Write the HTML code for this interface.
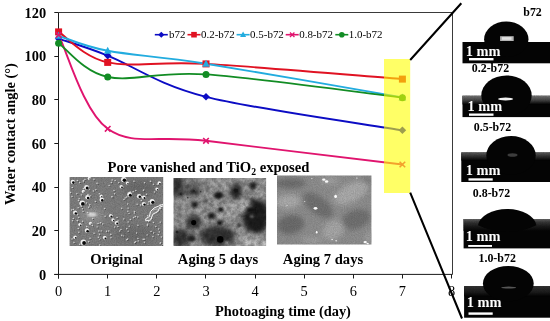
<!DOCTYPE html>
<html><head><meta charset="utf-8"><title>Water contact angle vs photoaging time</title>
<style>
html,body{margin:0;padding:0;background:#fff}
svg{display:block;font-family:"Liberation Serif","Times New Roman",serif}
.b{font-weight:bold}
</style></head><body>
<svg width="550" height="321" viewBox="0 0 550 321">
<defs>
<filter id="n1" x="0" y="0" width="100%" height="100%"><feTurbulence type="fractalNoise" baseFrequency="0.9" numOctaves="2" seed="3"/><feColorMatrix type="matrix" values="0 0 0 0 0  0 0 0 0 0  0 0 0 0 0  .5 .5 0 0 -.25"/></filter>
<filter id="n2" x="0" y="0" width="100%" height="100%"><feTurbulence type="fractalNoise" baseFrequency="0.22" numOctaves="3" seed="8"/><feColorMatrix type="matrix" values="0 0 0 0 0  0 0 0 0 0  0 0 0 0 0  1.6 1.6 0 0 -1.1"/></filter>
<filter id="bl1"><feGaussianBlur stdDeviation="1"/></filter>
<filter id="bl2"><feGaussianBlur stdDeviation="2.2"/></filter>
<filter id="bl4"><feGaussianBlur stdDeviation="4.5"/></filter>
<filter id="bl3"><feGaussianBlur stdDeviation="2.6"/></filter>
<filter id="bl13"><feGaussianBlur stdDeviation="1.2"/></filter>
<filter id="bl05"><feGaussianBlur stdDeviation="0.5"/></filter>
<clipPath id="c1"><rect x="69.6" y="177" width="93.6" height="69"/></clipPath>
<clipPath id="c2"><rect x="173.6" y="178" width="92.5" height="68"/></clipPath>
<clipPath id="c3"><rect x="277" y="175.6" width="94.4" height="69"/></clipPath>
<linearGradient id="gb1" x1="0" y1="0" x2="0" y2="1"><stop offset="0" stop-color="#777"/><stop offset=".5" stop-color="#484848"/><stop offset="1" stop-color="#040404"/></linearGradient>
<linearGradient id="gb2" x1="0" y1="0" x2="0" y2="1"><stop offset="0" stop-color="#5e5e5e"/><stop offset=".5" stop-color="#303030"/><stop offset="1" stop-color="#040404"/></linearGradient>
<linearGradient id="gb3" x1="0" y1="0" x2="0" y2="1"><stop offset="0" stop-color="#686868"/><stop offset=".25" stop-color="#3a3a3a"/><stop offset=".6" stop-color="#1c1c1c"/><stop offset="1" stop-color="#040404"/></linearGradient>
<linearGradient id="gb4" x1="0" y1="0" x2="0" y2="1"><stop offset="0" stop-color="#333"/><stop offset=".6" stop-color="#1c1c1c"/><stop offset="1" stop-color="#040404"/></linearGradient>
</defs>
<rect width="550" height="321" fill="#fff"/>

<path d="M58.5 12.5H452.5V274.4" fill="none" stroke="#3a3a3a" stroke-width="1"/>
<path d="M58.5 12.5V278.5M54.3 274.4H452.5" fill="none" stroke="#1a1a1a" stroke-width="1"/>
<path d="M54.3 274.5H58.5M54.3 230.5H58.5M54.3 187.5H58.5M54.3 143.5H58.5M54.3 99.5H58.5M54.3 56.5H58.5M54.3 12.5H58.5M58.5 274.4V278.5M107.5 274.4V278.5M156.5 274.4V278.5M205.5 274.4V278.5M255.5 274.4V278.5M304.5 274.4V278.5M353.5 274.4V278.5M402.5 274.4V278.5M451.5 274.4V278.5" fill="none" stroke="#1a1a1a" stroke-width="1"/>
<text class="b" x="46.2" y="279.7" font-size="14.4" text-anchor="end">0</text>
<text class="b" x="46.2" y="236.0" font-size="14.4" text-anchor="end">20</text>
<text class="b" x="46.2" y="192.4" font-size="14.4" text-anchor="end">40</text>
<text class="b" x="46.2" y="148.7" font-size="14.4" text-anchor="end">60</text>
<text class="b" x="46.2" y="105.1" font-size="14.4" text-anchor="end">80</text>
<text class="b" x="46.2" y="61.4" font-size="14.4" text-anchor="end">100</text>
<text class="b" x="46.2" y="17.8" font-size="14.4" text-anchor="end">120</text>
<text x="58.6" y="296" font-size="14.4" text-anchor="middle">0</text>
<text x="107.7" y="296" font-size="14.4" text-anchor="middle">1</text>
<text x="156.8" y="296" font-size="14.4" text-anchor="middle">2</text>
<text x="206.0" y="296" font-size="14.4" text-anchor="middle">3</text>
<text x="255.1" y="296" font-size="14.4" text-anchor="middle">4</text>
<text x="304.2" y="296" font-size="14.4" text-anchor="middle">5</text>
<text x="353.3" y="296" font-size="14.4" text-anchor="middle">6</text>
<text x="402.4" y="296" font-size="14.4" text-anchor="middle">7</text>
<text x="451.6" y="296" font-size="14.4" text-anchor="middle">8</text>
<text class="b" x="215" y="316" font-size="14.4">Photoaging time (day)</text>
<text class="b" transform="translate(15.4 205) rotate(-90)" font-size="14.4">Water contact angle (°)</text>
<g clip-path="url(#c1)">
<rect x="69" y="176" width="95" height="71" fill="#858585"/>
<g filter="url(#bl4)"><ellipse cx="92" cy="215" rx="11" ry="7" fill="#a4a4a4"/><ellipse cx="140" cy="188" rx="18" ry="7" fill="#707070"/><ellipse cx="135" cy="234" rx="22" ry="8" fill="#747474"/><ellipse cx="80" cy="192" rx="9" ry="10" fill="#868686"/></g>
<rect x="69" y="176" width="95" height="71" filter="url(#n1)" fill="#fff" opacity=".4"/>
<path d="M111.9 215.7h.1M155.1 209.5h.1M117.0 217.6h.1M87.4 212.5h.1M128.1 231.2h.1M79.1 198.7h.1M78.8 232.3h.1M133.9 181.3h.1M160.4 242.7h.1M130.3 219.4h.1M84.9 179.5h.1M118.8 182.5h.1M87.9 194.6h.1M73.3 209.4h.1M110.8 234.5h.1M118.0 221.1h.1M116.2 222.6h.1M112.3 197.0h.1M161.8 244.7h.1M147.4 225.6h.1M99.3 193.8h.1M96.9 183.2h.1M140.6 205.1h.1M148.0 204.2h.1M158.2 234.8h.1M70.5 192.4h.1M153.8 209.8h.1M160.2 204.9h.1M77.2 220.4h.1M141.7 196.4h.1M78.5 200.6h.1M158.7 228.9h.1M81.3 194.9h.1M79.7 182.5h.1M143.4 190.3h.1M121.7 208.3h.1M87.9 227.2h.1M82.5 221.3h.1M81.2 206.5h.1M90.0 196.4h.1M159.3 231.9h.1M98.3 237.3h.1M89.8 204.7h.1M148.7 221.2h.1M79.7 244.3h.1M90.0 195.7h.1M141.2 200.4h.1M97.6 183.4h.1M78.7 217.3h.1M92.7 218.5h.1M104.5 208.6h.1M158.3 210.7h.1M123.1 236.1h.1M87.2 188.7h.1M153.6 232.9h.1M93.3 191.1h.1M138.2 241.0h.1M88.5 241.7h.1M151.2 218.6h.1M109.1 185.4h.1M74.0 242.5h.1M92.3 225.4h.1M94.0 233.3h.1M125.1 198.0h.1M86.6 226.4h.1M76.8 193.7h.1M121.7 235.2h.1M126.7 197.1h.1M154.4 192.1h.1M72.0 196.4h.1M111.3 182.5h.1M86.6 203.0h.1M122.9 187.2h.1M103.6 237.7h.1M160.2 222.2h.1M133.7 217.4h.1M83.3 180.8h.1M72.1 239.0h.1M134.6 242.5h.1M72.4 220.8h.1M114.6 227.1h.1M99.7 245.0h.1M77.4 214.8h.1M137.9 238.4h.1M137.9 225.3h.1M143.1 239.3h.1M102.7 224.1h.1M152.9 236.4h.1M108.7 231.1h.1M149.5 216.6h.1M127.7 203.9h.1M123.8 219.0h.1M77.8 221.0h.1M161.4 237.0h.1M137.1 204.3h.1M137.8 217.1h.1M110.8 234.3h.1M78.2 228.4h.1M73.2 218.5h.1M114.5 193.8h.1M134.4 211.6h.1M126.7 239.7h.1M93.9 179.3h.1M98.0 223.6h.1M89.0 189.8h.1M153.4 222.4h.1M110.9 237.8h.1M100.4 222.8h.1M88.7 207.2h.1M144.2 239.3h.1M151.0 204.1h.1M123.9 199.5h.1M83.0 211.5h.1M147.1 234.9h.1M135.6 241.7h.1M95.8 189.7h.1M111.7 196.8h.1M90.1 206.0h.1M127.8 211.3h.1M99.4 234.3h.1M160.4 208.6h.1M77.3 180.6h.1M150.4 181.3h.1M135.3 216.4h.1M98.8 231.1h.1M72.2 187.5h.1M112.1 180.1h.1M146.4 194.3h.1M83.4 181.6h.1M128.1 208.2h.1M128.1 222.1h.1M144.4 242.2h.1M133.1 191.8h.1M114.0 190.4h.1M71.5 209.9h.1M135.8 190.4h.1M95.4 201.5h.1M134.3 213.1h.1M126.7 228.8h.1M106.5 231.2h.1M153.4 184.3h.1M155.8 226.5h.1M82.4 208.7h.1M127.7 239.0h.1M105.0 216.3h.1M151.0 231.5h.1M156.9 209.3h.1M130.1 192.1h.1M136.6 232.9h.1M129.2 226.2h.1M90.0 238.3h.1M160.2 243.5h.1M119.6 231.1h.1M99.8 239.0h.1M148.8 201.7h.1M78.1 207.8h.1M120.9 229.6h.1M115.1 180.4h.1M144.5 182.8h.1M143.7 190.0h.1M101.2 230.9h.1M83.4 188.4h.1M117.8 226.6h.1M147.4 224.3h.1M157.0 211.3h.1M157.3 184.2h.1M90.8 213.5h.1M97.1 227.0h.1M129.0 213.3h.1M147.7 215.7h.1" stroke="#cfcfcf" stroke-width="1.5" stroke-linecap="round" fill="none"/>
<path d="M112.8 216.6h.1M156.0 210.4h.1M117.9 218.5h.1M88.3 213.4h.1M129.0 232.1h.1M80.0 199.6h.1M79.7 233.2h.1M134.8 182.2h.1M161.3 243.6h.1M131.2 220.3h.1M85.8 180.4h.1M119.7 183.4h.1M88.8 195.5h.1M74.2 210.3h.1M111.7 235.4h.1M118.9 222.0h.1M117.1 223.5h.1M113.2 197.9h.1M162.7 245.6h.1M148.3 226.5h.1M100.2 194.7h.1M97.8 184.1h.1M141.5 206.0h.1M148.9 205.1h.1M159.1 235.7h.1M71.4 193.3h.1M154.7 210.7h.1M161.1 205.8h.1M78.1 221.3h.1M142.6 197.3h.1M79.4 201.5h.1M159.6 229.8h.1M82.2 195.8h.1M80.6 183.4h.1M144.3 191.2h.1M122.6 209.2h.1M88.8 228.1h.1M83.4 222.2h.1M82.1 207.4h.1M90.9 197.3h.1M160.2 232.8h.1M99.2 238.2h.1M90.7 205.6h.1M149.6 222.1h.1M80.6 245.2h.1M90.9 196.6h.1M142.1 201.3h.1M98.5 184.3h.1M79.6 218.2h.1M93.6 219.4h.1M105.4 209.5h.1M159.2 211.6h.1M124.0 237.0h.1M88.1 189.6h.1M154.5 233.8h.1M94.2 192.0h.1M139.1 241.9h.1M89.4 242.6h.1M152.1 219.5h.1M110.0 186.3h.1M74.9 243.4h.1M93.2 226.3h.1M94.9 234.2h.1M126.0 198.9h.1M87.5 227.3h.1M77.7 194.6h.1M122.6 236.1h.1M127.6 198.0h.1M155.3 193.0h.1M72.9 197.3h.1M112.2 183.4h.1M87.5 203.9h.1M123.8 188.1h.1M104.5 238.6h.1M161.1 223.1h.1M134.6 218.3h.1M84.2 181.7h.1M73.0 239.9h.1M135.5 243.4h.1M73.3 221.7h.1M115.5 228.0h.1M100.6 245.9h.1M78.3 215.7h.1M138.8 239.3h.1M138.8 226.2h.1M144.0 240.2h.1M103.6 225.0h.1M153.8 237.3h.1M109.6 232.0h.1M150.4 217.5h.1M128.6 204.8h.1M124.7 219.9h.1M78.7 221.9h.1M162.3 237.9h.1M138.0 205.2h.1M138.7 218.0h.1M111.7 235.2h.1M79.1 229.3h.1M74.1 219.4h.1M115.4 194.7h.1M135.3 212.5h.1M127.6 240.6h.1M94.8 180.2h.1M98.9 224.5h.1M89.9 190.7h.1M154.3 223.3h.1M111.8 238.7h.1M101.3 223.7h.1M89.6 208.1h.1M145.1 240.2h.1M151.9 205.0h.1M124.8 200.4h.1M83.9 212.4h.1M148.0 235.8h.1M136.5 242.6h.1M96.7 190.6h.1M112.6 197.7h.1M91.0 206.9h.1M128.7 212.2h.1M100.3 235.2h.1M161.3 209.5h.1M78.2 181.5h.1M151.3 182.2h.1M136.2 217.3h.1M99.7 232.0h.1M73.1 188.4h.1M113.0 181.0h.1M147.3 195.2h.1M84.3 182.5h.1M129.0 209.1h.1M129.0 223.0h.1M145.3 243.1h.1M134.0 192.7h.1M114.9 191.3h.1M72.4 210.8h.1M136.7 191.3h.1M96.3 202.4h.1M135.2 214.0h.1M127.6 229.7h.1M107.4 232.1h.1M154.3 185.2h.1M156.7 227.4h.1M83.3 209.6h.1M128.6 239.9h.1M105.9 217.2h.1M151.9 232.4h.1M157.8 210.2h.1M131.0 193.0h.1M137.5 233.8h.1M130.1 227.1h.1M90.9 239.2h.1M161.1 244.4h.1M120.5 232.0h.1M100.7 239.9h.1M149.7 202.6h.1M79.0 208.7h.1M121.8 230.5h.1M116.0 181.3h.1M145.4 183.7h.1M144.6 190.9h.1M102.1 231.8h.1M84.3 189.3h.1M118.7 227.5h.1M148.3 225.2h.1M157.9 212.2h.1M158.2 185.1h.1M91.7 214.4h.1M98.0 227.9h.1M129.9 214.2h.1M148.6 216.6h.1" stroke="#484848" stroke-width="1.1" stroke-linecap="round" fill="none"/>
<ellipse cx="92" cy="214.5" rx="4.5" ry="2" fill="#dcdcdc" filter="url(#bl1)"/>
<circle cx="72.8" cy="181.9" r="2.2" fill="#f0f0f0"/><circle cx="73.4" cy="182.6" r="1.3" fill="#0a0a0a"/>
<circle cx="86.5" cy="187.4" r="2.4" fill="#f0f0f0"/><circle cx="87.2" cy="188.0" r="1.5" fill="#0a0a0a"/>
<circle cx="82.2" cy="203.3" r="2.8" fill="#f0f0f0"/><circle cx="82.9" cy="203.9" r="1.9" fill="#0a0a0a"/>
<circle cx="87.5" cy="197.3" r="2.2" fill="#f0f0f0"/><circle cx="88.1" cy="198.0" r="1.3" fill="#0a0a0a"/>
<circle cx="123.7" cy="179.6" r="2.7" fill="#f0f0f0"/><circle cx="124.4" cy="180.2" r="1.8" fill="#0a0a0a"/>
<circle cx="121.3" cy="186.7" r="1.8" fill="#f0f0f0"/><circle cx="122.0" cy="187.3" r="0.9" fill="#0a0a0a"/>
<circle cx="129.6" cy="194.5" r="2.4" fill="#f0f0f0"/><circle cx="130.3" cy="195.2" r="1.5" fill="#0a0a0a"/>
<circle cx="139.1" cy="196.2" r="2.2" fill="#f0f0f0"/><circle cx="139.8" cy="196.8" r="1.3" fill="#0a0a0a"/>
<circle cx="143.8" cy="197.3" r="1.9" fill="#f0f0f0"/><circle cx="144.5" cy="198.0" r="1.0" fill="#0a0a0a"/>
<circle cx="143.8" cy="204.0" r="2.1" fill="#f0f0f0"/><circle cx="144.5" cy="204.6" r="1.2" fill="#0a0a0a"/>
<circle cx="152.1" cy="201.6" r="2.5" fill="#f0f0f0"/><circle cx="152.8" cy="202.3" r="1.6" fill="#0a0a0a"/>
<circle cx="101.7" cy="199.7" r="2.2" fill="#f0f0f0"/><circle cx="102.3" cy="200.4" r="1.3" fill="#0a0a0a"/>
<circle cx="75.1" cy="212.7" r="2.1" fill="#f0f0f0"/><circle cx="75.8" cy="213.4" r="1.2" fill="#0a0a0a"/>
<circle cx="87.0" cy="230.5" r="2.2" fill="#f0f0f0"/><circle cx="87.6" cy="231.2" r="1.3" fill="#0a0a0a"/>
<circle cx="83.4" cy="242.4" r="2.8" fill="#f0f0f0"/><circle cx="84.1" cy="243.0" r="1.9" fill="#0a0a0a"/>
<circle cx="75.1" cy="237.2" r="1.8" fill="#f0f0f0"/><circle cx="75.8" cy="237.8" r="0.9" fill="#0a0a0a"/>
<circle cx="110.7" cy="215.8" r="1.8" fill="#f0f0f0"/><circle cx="111.3" cy="216.5" r="0.9" fill="#0a0a0a"/>
<circle cx="116.6" cy="222.9" r="1.9" fill="#f0f0f0"/><circle cx="117.2" cy="223.6" r="1.0" fill="#0a0a0a"/>
<circle cx="104.7" cy="237.6" r="1.8" fill="#f0f0f0"/><circle cx="105.4" cy="238.3" r="0.9" fill="#0a0a0a"/>
<circle cx="159.3" cy="183.1" r="1.8" fill="#f0f0f0"/><circle cx="159.9" cy="183.8" r="0.9" fill="#0a0a0a"/>
<circle cx="89.3" cy="178.4" r="1.6" fill="#f0f0f0"/><circle cx="90.0" cy="179.0" r="0.7" fill="#0a0a0a"/>
<circle cx="101.2" cy="196.2" r="1.6" fill="#f0f0f0"/><circle cx="101.8" cy="196.8" r="0.7" fill="#0a0a0a"/>
<circle cx="83.4" cy="191.4" r="1.6" fill="#f0f0f0"/><circle cx="84.1" cy="192.1" r="0.7" fill="#0a0a0a"/>
<circle cx="79.9" cy="224.6" r="1.6" fill="#f0f0f0"/><circle cx="80.5" cy="225.2" r="0.7" fill="#0a0a0a"/>
<circle cx="90.5" cy="223.4" r="1.6" fill="#f0f0f0"/><circle cx="91.2" cy="224.1" r="0.7" fill="#0a0a0a"/>
<circle cx="113.0" cy="219.9" r="1.6" fill="#f0f0f0"/><circle cx="113.7" cy="220.5" r="0.7" fill="#0a0a0a"/>
<circle cx="156.9" cy="189.1" r="1.6" fill="#f0f0f0"/><circle cx="157.5" cy="189.7" r="0.7" fill="#0a0a0a"/>
<circle cx="127.3" cy="183.1" r="1.6" fill="#f0f0f0"/><circle cx="127.9" cy="183.8" r="0.7" fill="#0a0a0a"/>
<path d="M163.5 204l-9.5 4-3.5 3.5-1.2 5-3.6 2.3v2l4.8-.7 2.4-6 4.7-2.3 2.4-4.8 3.5-1.2" fill="#9a9a9a" fill-opacity=".5" stroke="#f4f4f4" stroke-width="1"/>
</g>
<g clip-path="url(#c2)">
<rect x="173" y="177" width="94" height="70" fill="#a8a8a8"/>
<g filter="url(#bl3)">
<ellipse cx="177.1" cy="185.8" rx="7.1" ry="10.7" fill="#3a3a3a"/>
<ellipse cx="191.3" cy="189.4" rx="10.7" ry="7.6" fill="#6c6c6c"/>
<ellipse cx="220.9" cy="182.3" rx="11.8" ry="4.3" fill="#b4b4b4"/>
<ellipse cx="255.8" cy="216.2" rx="13.3" ry="18.0" fill="#242424"/>
<ellipse cx="180.7" cy="238.0" rx="9.5" ry="9.5" fill="#404040"/>
<ellipse cx="217.4" cy="236.1" rx="17.8" ry="10.0" fill="#3a3a3a"/>
<ellipse cx="193.7" cy="222.6" rx="7.6" ry="7.1" fill="#383838"/>
<ellipse cx="235.9" cy="191.8" rx="5.7" ry="9.0" fill="#2a2a2a"/>
<ellipse cx="250.6" cy="241.5" rx="13.0" ry="6.6" fill="#c8c8c8"/>
<ellipse cx="237.5" cy="206.0" rx="13.0" ry="4.7" fill="#c4c4c4"/>
<ellipse cx="261.2" cy="194.1" rx="4.7" ry="3.3" fill="#bcbcbc"/>
<ellipse cx="180.7" cy="209.5" rx="6.6" ry="9.5" fill="#a2a2a2"/>
<ellipse cx="224.5" cy="214.3" rx="9.5" ry="6.6" fill="#b6b6b6"/>
<ellipse cx="262.9" cy="181.1" rx="2.8" ry="2.4" fill="#b0b0b0"/>
</g>
<g filter="url(#bl13)">
<ellipse cx="218.6" cy="195.3" rx="4.7" ry="3.6" fill="#262626"/>
<ellipse cx="220.9" cy="209.5" rx="2.8" ry="2.6" fill="#363636"/>
<ellipse cx="211.5" cy="215.9" rx="3.6" ry="3.3" fill="#303030"/>
<ellipse cx="194.9" cy="204.8" rx="3.6" ry="3.1" fill="#383838"/>
<ellipse cx="252.9" cy="185.8" rx="3.6" ry="3.6" fill="#333"/>
<ellipse cx="238.7" cy="224.9" rx="2.4" ry="2.1" fill="#505050"/>
<ellipse cx="219.8" cy="223.1" rx="3.3" ry="2.8" fill="#303030"/>
<ellipse cx="191.3" cy="238.5" rx="4.3" ry="3.3" fill="#2e2e2e"/>
<ellipse cx="193.7" cy="191.8" rx="3.8" ry="2.1" fill="#383838"/>
<ellipse cx="180.7" cy="194.1" rx="2.4" ry="2.1" fill="#333"/>
<ellipse cx="205.5" cy="201.3" rx="2.1" ry="1.7" fill="#555"/>
<ellipse cx="207.9" cy="188.2" rx="1.9" ry="1.4" fill="#5a5a5a"/>
<ellipse cx="251.8" cy="210.0" rx="4.7" ry="2.8" fill="#181818"/>
<ellipse cx="251.8" cy="216.4" rx="1.9" ry="1.2" fill="#8a8a8a"/>
<ellipse cx="264.3" cy="244.1" rx="2.4" ry="1.9" fill="#f0f0f0"/>
<ellipse cx="226.9" cy="242.7" rx="1.4" ry="1.2" fill="#ddd"/>
<ellipse cx="200.8" cy="211.9" rx="1.2" ry="1.9" fill="#ccc"/>
</g>
<rect x="173" y="177" width="94" height="70" filter="url(#n2)" fill="#000" opacity=".28"/>
<rect x="173" y="177" width="94" height="70" filter="url(#n1)" fill="#000" opacity=".25"/>
<g filter="url(#bl05)">
<circle cx="193.7" cy="222.6" r="2.6" fill="#050505"/>
<circle cx="220.2" cy="239.4" r="3.3" fill="#030303"/>
<circle cx="218.6" cy="195.3" r="1.7" fill="#181818"/>
<circle cx="211.5" cy="215.9" r="1.4" fill="#1c1c1c"/>
<circle cx="194.9" cy="204.8" r="1.4" fill="#202020"/>
<circle cx="220.9" cy="209.5" r="1.2" fill="#222"/>
<circle cx="235.9" cy="190.6" r="2.1" fill="#141414"/>
<circle cx="252.9" cy="185.8" r="1.2" fill="#222"/>
<circle cx="180.7" cy="194.1" r="0.9" fill="#1c1c1c"/>
<circle cx="193.7" cy="191.1" r="1.2" fill="#222"/>
<circle cx="219.8" cy="223.1" r="1.4" fill="#1c1c1c"/>
<circle cx="177.1" cy="232.1" r="1.4" fill="#222"/>
<circle cx="187.8" cy="197.7" r="0.7" fill="#222"/>
<circle cx="200.8" cy="191.8" r="0.7" fill="#2a2a2a"/>
</g></g>
<g clip-path="url(#c3)">
<rect x="276" y="175" width="96" height="70" fill="#939393"/>
<g filter="url(#bl3)">
<ellipse cx="290.6" cy="183.4" rx="15.4" ry="5.2" fill="#727272" transform="rotate(0 290.6 183.4)"/>
<ellipse cx="317.8" cy="205.2" rx="17.8" ry="8.5" fill="#747474" transform="rotate(38 317.8 205.2)"/>
<ellipse cx="290.6" cy="224.6" rx="13.7" ry="9.5" fill="#707070" transform="rotate(-10 290.6 224.6)"/>
<ellipse cx="355.8" cy="219.4" rx="14.7" ry="9.5" fill="#747474" transform="rotate(-20 355.8 219.4)"/>
<ellipse cx="366.4" cy="181.5" rx="4.7" ry="3.8" fill="#7c7c7c" transform="rotate(0 366.4 181.5)"/>
<ellipse cx="288.2" cy="201.6" rx="13.0" ry="6.6" fill="#b0b0b0" transform="rotate(-5 288.2 201.6)"/>
<ellipse cx="351.0" cy="192.9" rx="18.5" ry="9.0" fill="#b0b0b0" transform="rotate(-28 351.0 192.9)"/>
<ellipse cx="333.2" cy="230.1" rx="11.8" ry="9.0" fill="#acacac" transform="rotate(-30 333.2 230.1)"/>
<ellipse cx="311.9" cy="240.2" rx="10.7" ry="3.3" fill="#a6a6a6" transform="rotate(0 311.9 240.2)"/>
<ellipse cx="329.7" cy="181.0" rx="9.5" ry="3.3" fill="#a8a8a8" transform="rotate(0 329.7 181.0)"/>
<ellipse cx="368.8" cy="237.2" rx="3.8" ry="6.2" fill="#a4a4a4" transform="rotate(0 368.8 237.2)"/>
</g>
<rect x="276" y="175" width="96" height="70" filter="url(#n1)" fill="#fff" opacity=".3"/>
<ellipse cx="323.8" cy="179.6" rx="1.7" ry="1.2" fill="#fafafa"/>
<ellipse cx="326.6" cy="181.5" rx="1.7" ry="1.2" fill="#fafafa"/>
<ellipse cx="335.6" cy="196.4" rx="1.4" ry="1.7" fill="#fafafa"/>
<ellipse cx="315.5" cy="208.3" rx="1.9" ry="1.4" fill="#fafafa"/>
<ellipse cx="316.7" cy="232.2" rx="0.9" ry="1.2" fill="#fafafa"/>
<ellipse cx="365.2" cy="242.1" rx="1.7" ry="1.2" fill="#fafafa"/>
<ellipse cx="367.6" cy="243.6" rx="1.2" ry="0.9" fill="#fafafa"/>
<ellipse cx="332.1" cy="239.5" rx="0.7" ry="0.7" fill="#fafafa"/>
<ellipse cx="336.1" cy="240.7" rx="0.7" ry="0.7" fill="#fafafa"/>
<ellipse cx="311.9" cy="178.6" rx="0.5" ry="0.5" fill="#fafafa"/>
<ellipse cx="287.0" cy="205.2" rx="0.5" ry="0.5" fill="#fafafa"/>
<ellipse cx="304.8" cy="201.6" rx="0.5" ry="0.5" fill="#fafafa"/>
<ellipse cx="356.9" cy="177.9" rx="0.7" ry="0.5" fill="#fafafa"/>
</g>
<text class="b" x="107.6" y="171.7" font-size="14.65">Pore vanished and TiO<tspan font-size="9.7" dy="3">2</tspan><tspan dy="-3"> exposed</tspan></text>
<text class="b" x="116.5" y="263.6" font-size="14.6" text-anchor="middle">Original</text>
<text class="b" x="218" y="263.6" font-size="14.6" text-anchor="middle">Aging 5 days</text>
<text class="b" x="323" y="263.6" font-size="14.6" text-anchor="middle">Aging 7 days</text>
<path d="M58.6 38.6C66.8 41.5 83.2 45.9 107.7 55.6C132.3 65.3 156.8 84.3 206.0 96.8C255.1 109.2 369.7 124.7 402.4 130.3" fill="none" stroke="#0c0cc4" stroke-width="1.9" stroke-linecap="round"/>
<path d="M58.6 31.9C66.8 37.0 83.2 57.0 107.7 62.4C132.3 67.7 156.8 61.1 206.0 63.9C255.1 66.7 369.7 76.6 402.4 79.1" fill="none" stroke="#e01222" stroke-width="1.9" stroke-linecap="round"/>
<path d="M58.6 35.8C66.8 38.3 83.2 46.2 107.7 50.8C132.3 55.5 156.8 55.9 206.0 63.7C255.1 71.5 369.7 91.8 402.4 97.4" fill="none" stroke="#22acdf" stroke-width="1.9" stroke-linecap="round"/>
<path d="M58.6 34.9C66.8 50.6 83.2 111.2 107.7 128.8C132.3 146.4 156.8 134.8 206.0 140.8C255.1 146.7 369.7 160.6 402.4 164.5" fill="none" stroke="#e0146e" stroke-width="1.9" stroke-linecap="round"/>
<path d="M58.6 43.2C66.8 48.8 83.2 71.8 107.7 77.0C132.3 82.2 156.8 70.9 206.0 74.4C255.1 77.8 369.7 93.8 402.4 97.7" fill="none" stroke="#128c24" stroke-width="1.9" stroke-linecap="round"/>
<path d="M58.6 34.8l3.8 3.8l-3.8 3.8l-3.8 -3.8z" fill="#0c0cc4"/>
<path d="M107.7 51.8l3.8 3.8l-3.8 3.8l-3.8 -3.8z" fill="#0c0cc4"/>
<path d="M206.0 93.0l3.8 3.8l-3.8 3.8l-3.8 -3.8z" fill="#0c0cc4"/>
<path d="M402.4 126.5l3.8 3.8l-3.8 3.8l-3.8 -3.8z" fill="#0c0cc4"/>
<rect x="55.1" y="28.4" width="7" height="7" fill="#e01222"/>
<rect x="104.2" y="58.9" width="7" height="7" fill="#e01222"/>
<rect x="202.5" y="60.4" width="7" height="7" fill="#e01222"/>
<rect x="398.9" y="75.6" width="7" height="7" fill="#e01222"/>
<path d="M58.6 31.8l3.8 7l-7.6 0z" fill="#22acdf"/>
<path d="M107.7 46.8l3.8 7l-7.6 0z" fill="#22acdf"/>
<path d="M206.0 59.7l3.8 7l-7.6 0z" fill="#22acdf"/>
<path d="M402.4 93.4l3.8 7l-7.6 0z" fill="#22acdf"/>
<path d="M55.8 32.1l5.6 5.6m0 -5.6l-5.6 5.6" stroke="#e0146e" stroke-width="1.6" fill="none"/>
<path d="M104.9 126.0l5.6 5.6m0 -5.6l-5.6 5.6" stroke="#e0146e" stroke-width="1.6" fill="none"/>
<path d="M203.2 138.0l5.6 5.6m0 -5.6l-5.6 5.6" stroke="#e0146e" stroke-width="1.6" fill="none"/>
<path d="M399.6 161.7l5.6 5.6m0 -5.6l-5.6 5.6" stroke="#e0146e" stroke-width="1.6" fill="none"/>
<circle cx="58.6" cy="43.2" r="3.5" fill="#128c24"/>
<circle cx="107.7" cy="77.0" r="3.5" fill="#128c24"/>
<circle cx="206.0" cy="74.4" r="3.5" fill="#128c24"/>
<circle cx="402.4" cy="97.7" r="3.5" fill="#128c24"/>
<path d="M154.8 34.7h13" stroke="#0c0cc4" stroke-width="1.6"/>
<g transform="translate(161.3 34.7) scale(.8) translate(-161.3 -34.7)"><path d="M161.3 30.9l3.8 3.8l-3.8 3.8l-3.8 -3.8z" fill="#0c0cc4"/></g>
<text x="169.0" y="38" font-size="10.95">b72</text>
<path d="M187.5 34.7h13" stroke="#e01222" stroke-width="1.6"/>
<g transform="translate(194.0 34.7) scale(.8) translate(-194.0 -34.7)"><rect x="190.5" y="31.2" width="7" height="7" fill="#e01222"/></g>
<text x="201.0" y="38" font-size="10.95">0.2-b72</text>
<path d="M236.6 34.7h13" stroke="#22acdf" stroke-width="1.6"/>
<g transform="translate(243.1 34.7) scale(.8) translate(-243.1 -34.7)"><path d="M243.1 30.7l3.8 7l-7.6 0z" fill="#22acdf"/></g>
<text x="250.1" y="38" font-size="10.95">0.5-b72</text>
<path d="M285.7 34.7h13" stroke="#e0146e" stroke-width="1.6"/>
<g transform="translate(292.2 34.7) scale(.8) translate(-292.2 -34.7)"><path d="M289.4 31.9l5.6 5.6m0 -5.6l-5.6 5.6" stroke="#e0146e" stroke-width="1.6" fill="none"/></g>
<text x="299.2" y="38" font-size="10.95">0.8-b72</text>
<path d="M335.3 34.7h13" stroke="#128c24" stroke-width="1.6"/>
<g transform="translate(341.8 34.7) scale(.8) translate(-341.8 -34.7)"><circle cx="341.8" cy="34.7" r="3.5" fill="#128c24"/></g>
<text x="348.8" y="38" font-size="10.95">1.0-b72</text>
<rect x="384" y="59" width="26.2" height="134" fill="#ffff00" fill-opacity=".6"/>
<path d="M410.2 60L461.3 3.2M410.2 192.6L462 318.5" stroke="#000" stroke-width="2.05" fill="none"/>
<rect x="462.5" y="42.0" width="87.5" height="21.3" fill="#040404"/>
<ellipse cx="506.3" cy="39.3" rx="22.2" ry="17.8" fill="#040404"/>
<rect x="500.1" y="36.2" width="13.6" height="4.8" fill="#b4b4b4"/><rect x="502" y="37.2" width="9.5" height="2.6" fill="#e2e2e2" filter="url(#bl05)"/>
<text class="b" x="465.8" y="55.9" font-size="14.4" fill="#fff">1 mm</text>
<rect x="469.0" y="58.0" width="24.5" height="2.4" fill="#fff"/>
<text class="b" x="523.3" y="16.0" font-size="11.9">b72</text>
<rect x="462.5" y="95.8" width="87.5" height="21.3" fill="#040404"/>
<rect x="462.5" y="95.8" width="87.5" height="8.5" fill="url(#gb1)"/>
<rect x="462.5" y="95.8" width="87.5" height="8.5" filter="url(#n1)" fill="#000" opacity=".32"/>
<ellipse cx="506.5" cy="95.6" rx="25.2" ry="20.2" fill="#040404"/>
<ellipse cx="505.6" cy="99" rx="7.6" ry="1.5" fill="#f0f0f0" filter="url(#bl05)"/>
<text class="b" x="467.4" y="110.6" font-size="14.4" fill="#fff">1 mm</text>
<rect x="469.0" y="113.5" width="24.5" height="2.3" fill="#fff"/>
<text class="b" x="471.8" y="72.4" font-size="11.9">0.2-b72</text>
<rect x="461.3" y="152.5" width="88.7" height="29.5" fill="#040404"/>
<rect x="461.3" y="152.5" width="88.7" height="8.0" fill="url(#gb2)"/>
<rect x="461.3" y="152.5" width="88.7" height="8.0" filter="url(#n1)" fill="#000" opacity=".32"/>
<ellipse cx="511.0" cy="155.4" rx="24.7" ry="19.3" fill="#040404"/>
<ellipse cx="512.5" cy="155" rx="5" ry="1.8" fill="#3c3c3c" filter="url(#bl05)"/>
<text class="b" x="465.8" y="175.2" font-size="14.4" fill="#fff">1 mm</text>
<rect x="468.5" y="178.3" width="24.2" height="2.3" fill="#fff"/>
<text class="b" x="473.8" y="131.0" font-size="11.9">0.5-b72</text>
<rect x="463.6" y="219.0" width="86.4" height="29.4" fill="#040404"/>
<rect x="463.6" y="219.0" width="86.4" height="12.0" fill="url(#gb3)"/>
<rect x="463.6" y="219.0" width="86.4" height="12.0" filter="url(#n1)" fill="#000" opacity=".32"/>
<path d="M478 225.2A29.3 17.7 0 0 1 536.4 225.2Q507 239 478 225.2z" fill="#040404"/>
<text class="b" x="465.8" y="241.2" font-size="14.4" fill="#fff">1 mm</text>
<rect x="468.2" y="245.0" width="23.8" height="1.9" fill="#fff"/>
<text class="b" x="472.8" y="197.4" font-size="11.9">0.8-b72</text>
<rect x="464.1" y="286.2" width="85.9" height="31.5" fill="#040404"/>
<rect x="464.1" y="286.2" width="85.9" height="10.0" fill="url(#gb4)"/>
<rect x="464.1" y="286.2" width="85.9" height="10.0" filter="url(#n1)" fill="#000" opacity=".32"/>
<ellipse cx="508.3" cy="283.6" rx="25.4" ry="17.7" fill="#040404"/>
<ellipse cx="508.7" cy="287.6" rx="7.5" ry="1" fill="#565656" filter="url(#bl05)"/>
<text class="b" x="466.7" y="307.3" font-size="14.4" fill="#fff">1 mm</text>
<rect x="468.5" y="312.4" width="24.2" height="2.4" fill="#fff"/>
<text class="b" x="478.5" y="262.0" font-size="11.9">1.0-b72</text>
</svg></body></html>
